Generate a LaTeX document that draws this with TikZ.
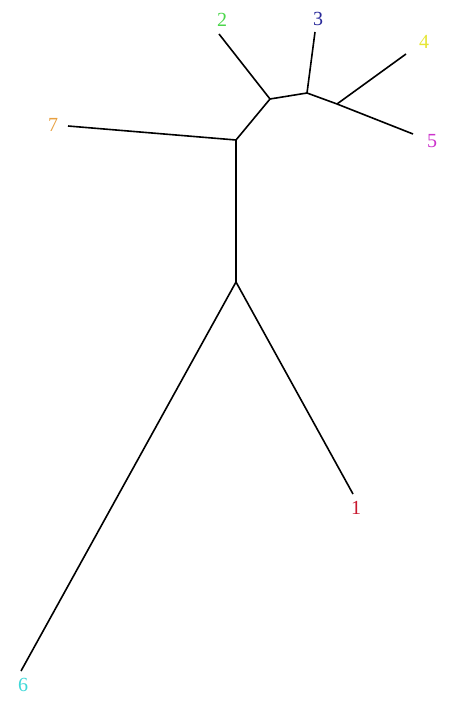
\documentclass[tikz,border=0pt]{standalone}
\usepackage{fontspec}
\setmainfont{Liberation Serif}
\definecolor{cred}{HTML}{C8182E}
\definecolor{cgreen}{HTML}{4CD64C}
\definecolor{cblue}{HTML}{2A2A9A}
\definecolor{cyellow}{HTML}{E6E633}
\definecolor{cmag}{HTML}{CC33CC}
\definecolor{ccyan}{HTML}{3FD8D8}
\definecolor{corange}{HTML}{E8A040}
\begin{document}
\begin{tikzpicture}[x=1pt,y=-1pt,
  edge/.style={line width=1.6pt,black},
  leaf/.style={font=\fontsize{20}{20}\selectfont,inner sep=0pt}]
\useasboundingbox (0,0) rectangle (474,711);
% internal vertices
\coordinate (A) at (270,99);
\coordinate (B) at (307,93);
\coordinate (C) at (337,104);
\coordinate (D) at (236,140);
\coordinate (E) at (236,282);
% leaf ends
\coordinate (e1) at (353,494);
\coordinate (e2) at (219,34);
\coordinate (e3) at (315,32);
\coordinate (e4) at (406,54);
\coordinate (e5) at (413,134);
\coordinate (e6) at (21,671);
\coordinate (e7) at (68,126);
% labels
\node[leaf,text=cred] (l1) at (356,508) {1};
\node[leaf,text=cgreen] (l2) at (222,20) {2};
\node[leaf,text=cblue] (l3) at (318,19) {3};
\node[leaf,text=cyellow] (l4) at (424,42) {4};
\node[leaf,text=cmag] (l5) at (432,141) {5};
\node[leaf,text=ccyan] (l6) at (23,685) {6};
\node[leaf,text=corange] (l7) at (53,125) {7};
% edges
\draw[edge] (e2) -- (A);
\draw[edge] (A) -- (B);
\draw[edge] (e3) -- (B);
\draw[edge] (B) -- (C);
\draw[edge] (C) -- (e4);
\draw[edge] (C) -- (e5);
\draw[edge] (A) -- (D);
\draw[edge] (e7) -- (D);
\draw[edge] (D) -- (E);
\draw[edge] (E) -- (e1);
\draw[edge] (E) -- (e6);
\end{tikzpicture}
\end{document}
